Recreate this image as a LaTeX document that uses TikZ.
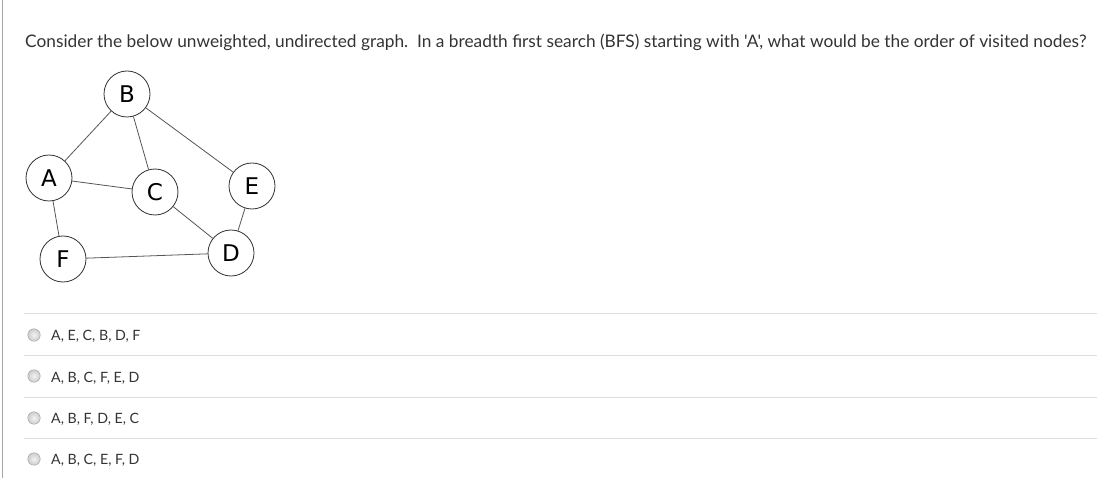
\documentclass[tikz,border=0pt]{standalone}
\usepackage{fontspec}
\newfontfamily\uifont{Lato}
\newfontfamily\graphfont{DejaVu Sans}
\definecolor{textgray}{HTML}{333333}
\definecolor{rulegray}{HTML}{DDDDDD}
\definecolor{edgegray}{HTML}{555555}
\begin{document}
\begin{tikzpicture}[x=1pt,y=-1pt,
  vertex/.style={circle,draw=textgray,line width=0.8pt,minimum size=46pt,inner sep=0pt,font=\graphfont\fontsize{23}{23}\selectfont},
  edge/.style={draw=edgegray,line width=0.8pt},
  radio/.style={circle,draw=gray!75,inner color=gray!10,outer color=gray!40,minimum size=12.5pt,inner sep=0pt},
  choice/.style={anchor=base west,inner sep=0pt,text=textgray,font=\uifont\fontsize{14.2}{16}\selectfont}]
\useasboundingbox (0,0) rectangle (1097,478);
\draw[gray!70] (2,0) -- (2,478); % Left border
\node[anchor=base west,inner sep=0pt,text=textgray,font=\uifont\fontsize{17.3}{20}\selectfont] (question) at (25,48)
  {Consider the below unweighted, undirected graph.\ \ In a breadth first search (BFS) starting with 'A', what would be the order of visited nodes?};
% Graph
\node[vertex] (B) at (127,94) {B};
\node[vertex] (A) at (49,178) {A};
\node[vertex] (C) at (155,192) {C};
\node[vertex] (E) at (252,186) {E};
\node[vertex] (D) at (231,253) {D};
\node[vertex] (F) at (63,259) {F};
\draw[edge] (A) -- (B);
\draw[edge] (B) -- (C);
\draw[edge] (B) -- (E);
\draw[edge] (A) -- (C);
\draw[edge] (A) -- (F);
\draw[edge] (C) -- (D);
\draw[edge] (E) -- (D);
\draw[edge] (F) -- (D);
% Answers
\draw[rulegray] (24,313) -- (1097,313);
\draw[rulegray] (24,355) -- (1097,355);
\draw[rulegray] (24,397) -- (1097,397);
\draw[rulegray] (24,438) -- (1097,438);
\node[radio] (r1) at (34,335) {};
\node[radio] (r2) at (34,376) {};
\node[radio] (r3) at (34,418) {};
\node[radio] (r4) at (34,459) {};
\node[choice] (c1) at (51,340) {A, E, C, B, D, F};
\node[choice] (c2) at (51,382) {A, B, C, F, E, D};
\node[choice] (c3) at (51,423) {A, B, F, D, E, C};
\node[choice] (c4) at (51,464) {A, B, C, E, F, D};
\end{tikzpicture}
\end{document}
